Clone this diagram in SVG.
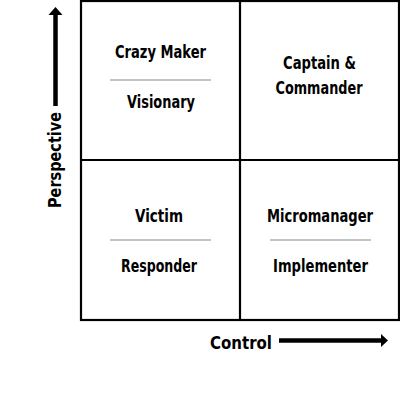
<svg xmlns="http://www.w3.org/2000/svg" width="400" height="400" viewBox="0 0 400 400">
<style>
.t{font-family:"DejaVu Sans Condensed","DejaVu Sans","Liberation Sans",sans-serif;font-stretch:condensed;font-weight:bold;font-size:18px;fill:#000;text-anchor:middle}
.sep{stroke:#888;stroke-width:1.2}
.grid{stroke:#000;stroke-width:2.2;fill:none}
.shaft{stroke:#000;stroke-width:4.5}
</style>
<rect width="400" height="400" fill="#fff"/>
<g id="grid">
<rect class="grid" x="81" y="1" width="318" height="319"/>
<line class="grid" x1="240" y1="1" x2="240" y2="320"/>
<line class="grid" x1="81" y1="160" x2="399" y2="160"/>
</g>
<g id="q-top-left">
<text class="t" x="160.5" y="58" textLength="91" lengthAdjust="spacingAndGlyphs">Crazy Maker</text>
<line class="sep" x1="110" y1="80" x2="211" y2="80"/>
<text class="t" x="161" y="107.5" textLength="68" lengthAdjust="spacingAndGlyphs">Visionary</text>
</g>
<g id="q-top-right">
<text class="t" x="319.5" y="69" textLength="73" lengthAdjust="spacingAndGlyphs">Captain &amp;</text>
<text class="t" x="319" y="93.5" textLength="87" lengthAdjust="spacingAndGlyphs">Commander</text>
</g>
<g id="q-bottom-left">
<text class="t" x="159" y="221.5" textLength="48" lengthAdjust="spacingAndGlyphs">Victim</text>
<line class="sep" x1="110" y1="240" x2="211" y2="240"/>
<text class="t" x="159" y="271.5" textLength="76" lengthAdjust="spacingAndGlyphs">Responder</text>
</g>
<g id="q-bottom-right">
<text class="t" x="320" y="221.5" textLength="106" lengthAdjust="spacingAndGlyphs">Micromanager</text>
<line class="sep" x1="270" y1="240" x2="371" y2="240"/>
<text class="t" x="320.5" y="271.5" textLength="95" lengthAdjust="spacingAndGlyphs">Implementer</text>
</g>
<g id="axis-x">
<text class="t" x="241" y="349" textLength="62" lengthAdjust="spacingAndGlyphs">Control</text>
<line class="shaft" x1="279" y1="340.5" x2="382" y2="340.5"/>
<path d="M381,334 L388,340.5 L381,347 z" fill="#000"/>
</g>
<g id="axis-y">
<text class="t" transform="translate(61,160) rotate(-90)" x="0" y="0" textLength="96" lengthAdjust="spacingAndGlyphs">Perspective</text>
<line class="shaft" x1="55.5" y1="106" x2="55.5" y2="14"/>
<path d="M48.5,15 L55.5,7 L62.5,15 z" fill="#000"/>
</g>
</svg>
